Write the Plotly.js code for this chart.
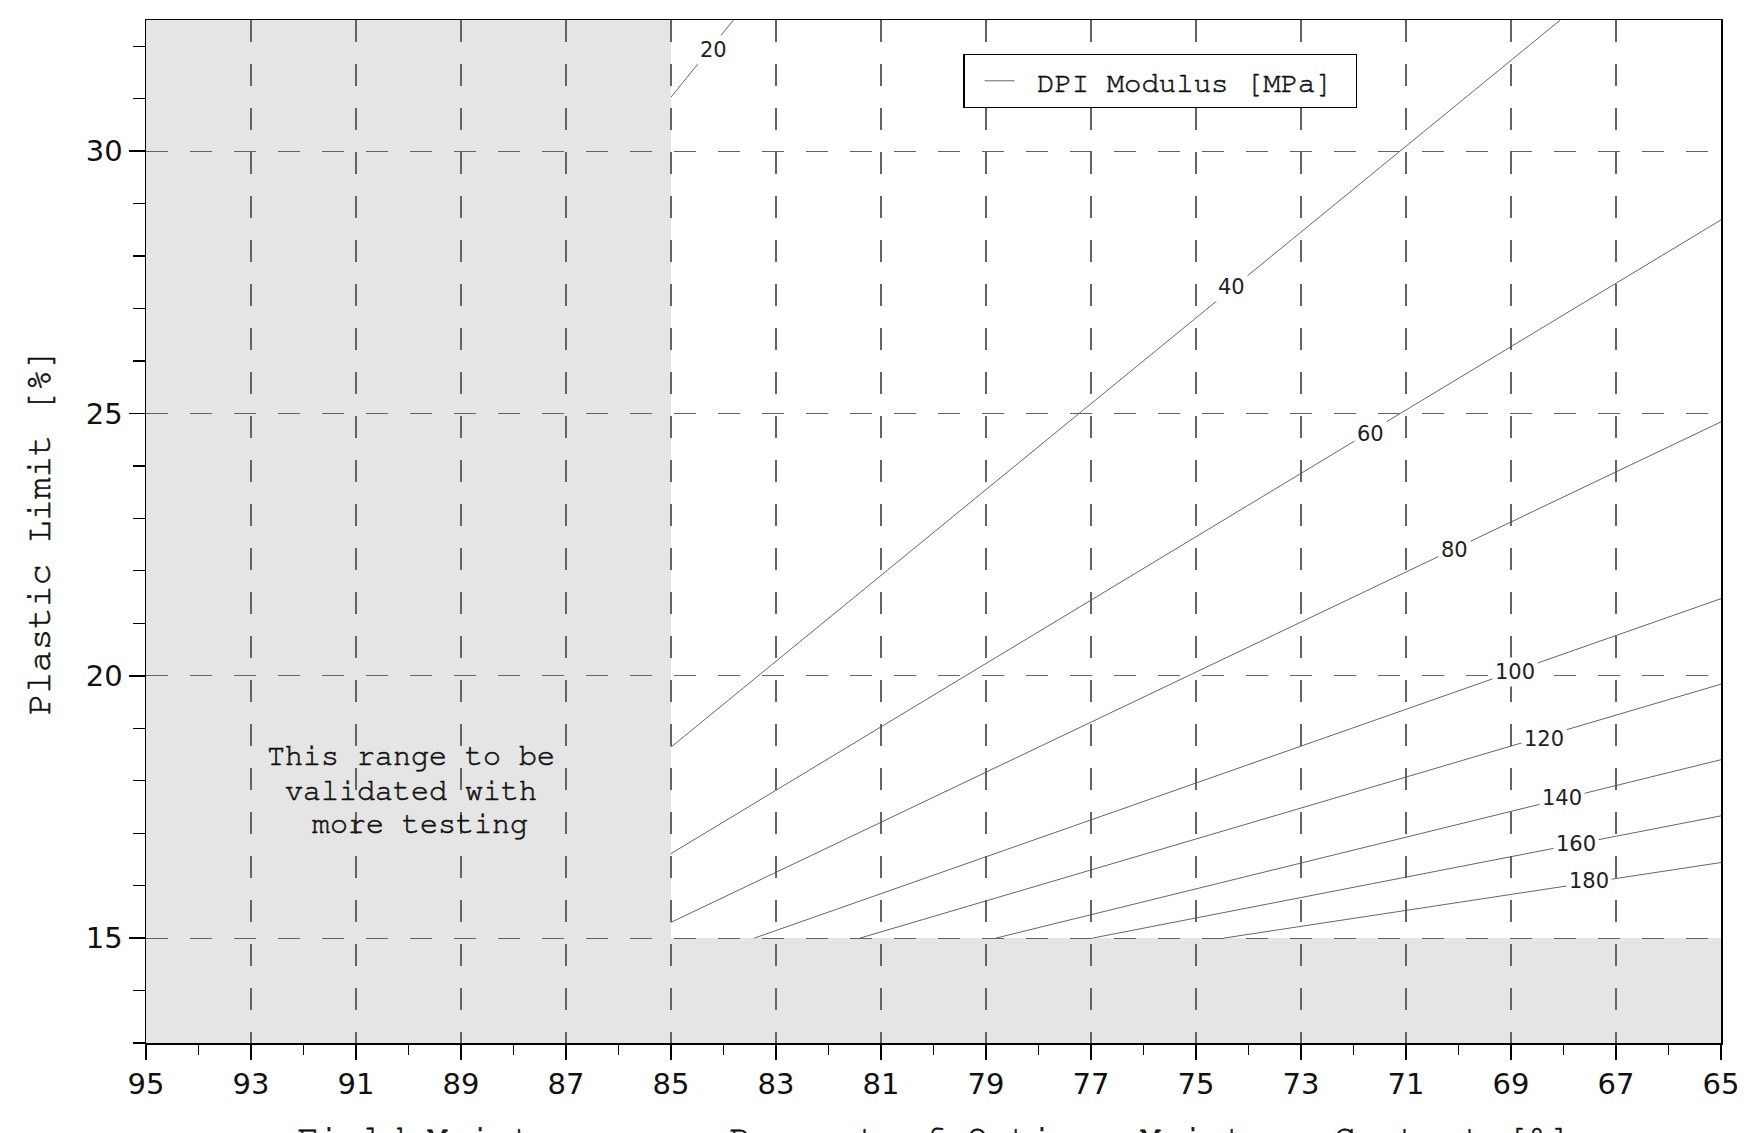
<!DOCTYPE html>
<html>
<head>
<meta charset="utf-8">
<script src="https://cdn.plot.ly/plotly-3.0.1.min.js"></script>
<style>
html,body{margin:0;padding:0;background:#fff;}
#chart{width:1744px;height:1133px;}
#chart text[style*="Nimbus"]{stroke:#111;stroke-width:0.55px;}
</style>
</head>
<body>
<div id="chart"></div>
<script>
// ---- data ----
const moduli      = [20, 40, 60, 80, 100, 120, 140, 160, 180];
const lineStartX  = [85.0, 85.0, 85.0, 85.0, 83.41, 81.40, 78.81, 76.97, 74.47];
const lineStartY  = [31.03, 18.64, 16.61, 15.30, 15.0, 15.0, 15.0, 15.0, 15.0];
const lineEndX    = [83.81, 68.06, 65.0, 65.0, 65.0, 65.0, 65.0, 65.0, 65.0];
const lineEndY    = [32.5, 32.5, 28.69, 24.84, 21.47, 19.84, 18.40, 17.33, 16.44];
const labelX      = [84.19, 74.32, 71.67, 70.08, 68.92, 68.37, 68.02, 67.76, 67.52];
const labelY      = [31.93, 27.42, 24.60, 22.39, 20.07, 18.80, 17.67, 16.80, 16.08];

const xRange = [95, 65];
const yRange = [13, 32.5];
const unvalidatedXMin = 85;   // x > 85 is shaded
const unvalidatedYMax = 15;   // y < 15 is shaded

const rangeNote = ["This range to be", "validated with", " more testing"];
const rangeNoteX = 89.95;
const rangeNoteY = [18.47, 17.81, 17.16];

const legendName = "DPI Modulus [MPa]";
const xTitle = "Field Moisture as a Percent of Optimum Moisture Content [%]";
const yTitle = "Plastic Limit [%]";

// ---- build ----
const MONO = "'Nimbus Mono PS', 'Nimbus Mono L', FreeMono, Courier, 'Courier New', 'Liberation Mono', monospace";
const SANS = "'DejaVu Sans', sans-serif";
const lineColor = "#555555";

const traces = moduli.map((m, i) => ({
  type: "scatter",
  mode: "lines",
  x: [lineStartX[i], lineEndX[i]],
  y: [lineStartY[i], lineEndY[i]],
  line: {color: lineColor, width: 0.9},
  name: "&nbsp;" + legendName + "&nbsp;",
  legendgroup: "dpi",
  showlegend: i === 0,
  hoverinfo: "skip"
}));

const annotations = moduli.map((m, i) => ({
  x: labelX[i], y: labelY[i], xref: "x", yref: "y",
  text: String(m), showarrow: false,
  font: {family: SANS, size: 21, color: "#222"},
  bgcolor: "#ffffff", borderpad: 2,
  xanchor: "center", yanchor: "middle"
}));

rangeNote.forEach((t, i) => {
  annotations.push({
    x: rangeNoteX, y: rangeNoteY[i], xref: "x", yref: "y",
    text: t.replace(/ /g, "&nbsp;"), showarrow: false,
    font: {family: MONO, size: 30, color: "#111"},
    xanchor: "center", yanchor: "middle"
  });
});

// x-axis title (placed below the tick labels, partly past the bottom edge as in the reference)
annotations.push({
  x: 0.5, y: -0.0739, xref: "paper", yref: "paper",
  text: xTitle, showarrow: false,
  font: {family: MONO, size: 36, color: "#111"},
  xanchor: "center", yanchor: "top"
});

const shapes = [
  {type: "rect", xref: "x", yref: "y", x0: xRange[0], x1: unvalidatedXMin, y0: yRange[0], y1: yRange[1],
   fillcolor: "#e5e5e5", line: {width: 0}, layer: "below"},
  {type: "rect", xref: "x", yref: "y", x0: xRange[0], x1: xRange[1], y0: yRange[0], y1: unvalidatedYMax,
   fillcolor: "#e5e5e5", line: {width: 0}, layer: "below"}
];

const axisCommon = {
  showline: true, linecolor: "#000", linewidth: 1.5, mirror: true,
  ticks: "outside", tickcolor: "#000", tickwidth: 1.5,
  showgrid: true, gridcolor: "#636363", gridwidth: 1.1, griddash: "22px,22px",
  zeroline: false, fixedrange: true,
  tickfont: {family: SANS, size: 29, color: "#111"}
};

const layout = {
  width: 1744, height: 1133, autosize: false,
  margin: {l: 146, r: 23, t: 20, b: 90, autoexpand: false},
  paper_bgcolor: "#fff", plot_bgcolor: "#fff",
  showlegend: true,
  legend: {
    x: 0.519, y: 0.9665, xanchor: "left", yanchor: "top",
    bgcolor: "#fff", bordercolor: "#000", borderwidth: 1.2,
    font: {family: MONO, size: 29, color: "#111"},
    itemwidth: 30, indentation: 15
  },
  xaxis: Object.assign({}, axisCommon, {
    range: xRange, tickmode: "linear", tick0: 95, dtick: 2, ticklen: 15,
    minor: {tick0: 95, dtick: 1, ticks: "outside", ticklen: 10, tickwidth: 1.2, tickcolor: "#000", showgrid: false},
    automargin: false
  }),
  yaxis: Object.assign({}, axisCommon, {
    range: yRange, tickmode: "linear", tick0: 15, dtick: 5, ticklen: 16,
    minor: {dtick: 1, ticks: "outside", ticklen: 12, tickwidth: 1.2, tickcolor: "#000", showgrid: false},
    title: {text: yTitle, font: {family: MONO, size: 36, color: "#111"}, standoff: 24},
    automargin: false
  }),
  shapes: shapes,
  annotations: annotations
};

Plotly.newPlot("chart", traces, layout, {displayModeBar: false, staticPlot: true});
</script>
</body>
</html>
